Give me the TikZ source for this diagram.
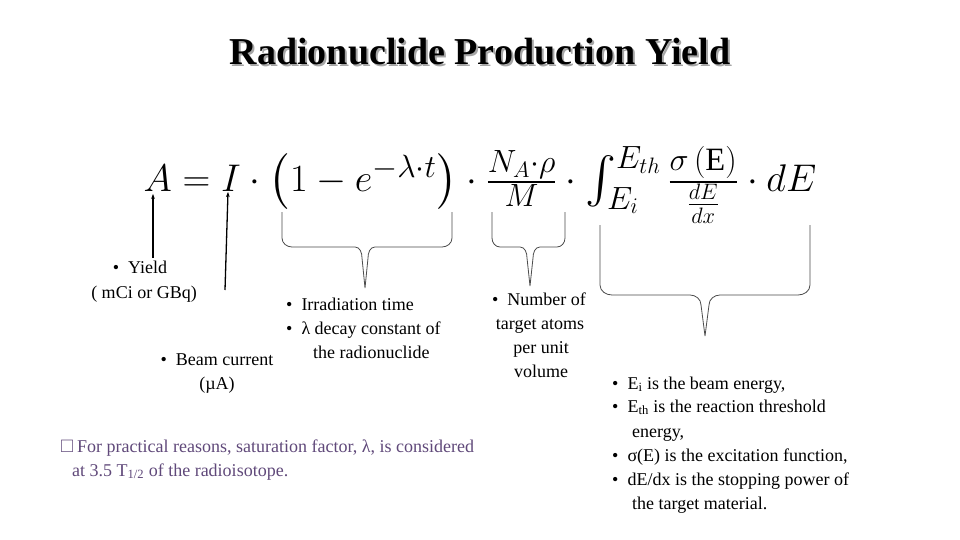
\documentclass[tikz,border=0pt]{standalone}
\usepackage{fontspec}
\usepackage{amssymb}
\usetikzlibrary{arrows.meta}
\setmainfont{Liberation Serif}
\begin{document}
\begin{tikzpicture}[x=1pt,y=-1pt,
  txt/.style={font=\fontsize{18}{21}\selectfont,inner sep=0pt,text depth=0pt,text height=12pt},
  brc/.style={draw=black!70,line width=0.8pt}]
\useasboundingbox (0,0) rectangle (960,540);
\fill[white] (0,0) rectangle (960,540);
% title
\node[font=\fontsize{38}{44}\selectfont\bfseries,text=black!35] at (482,54) {Radionuclide Production Yield};
\node (title) [font=\fontsize{38}{44}\selectfont\bfseries] at (480,52) {Radionuclide Production Yield};
% equation
\node (eq) [inner sep=0pt,font=\fontsize{30}{36}\selectfont,scale=1.55] at (480,185)
 {$A = I\cdot\left(1-e^{-\lambda\cdot t}\right)\cdot\frac{N_A\cdot\rho}{M}\cdot\int_{E_i}^{E_{th}}\frac{\sigma\,(\mathrm{E})}{\frac{dE}{dx}}\cdot dE$};
% braces
\draw[brc] (282,212) -- (282,238) to[out=-90,in=180] (292,247) -- (355,247) to[out=0,in=90] (362,258) -- (365,288)
  (365,288) -- (368,258) to[out=90,in=180] (375,247) -- (442,247) to[out=0,in=-90] (452,238) -- (452,212);
\draw[brc] (492,212) -- (492,238) to[out=-90,in=180] (500,247) -- (520,247) to[out=0,in=90] (527,258) -- (530,286)
  (530,286) -- (533,258) to[out=90,in=180] (540,247) -- (557,247) to[out=0,in=-90] (565,238) -- (565,212);
\draw[brc] (600,225) -- (600,285) to[out=-90,in=180] (612,295) -- (690,295) to[out=0,in=90] (701,305) -- (705,336)
  (705,336) -- (709,305) to[out=90,in=180] (720,295) -- (798,295) to[out=0,in=-90] (810,285) -- (810,225);
% arrows
\coordinate (a1) at (153,258); \coordinate (a1t) at (153,194);
\coordinate (a2) at (225,290); \coordinate (a2t) at (228,192);
\draw[-{Stealth[length=5pt]},line width=1.3pt] (a1) -- (a1t);
\draw[-{Stealth[length=5pt]},line width=1.3pt] (a2) -- (a2t);
% left texts
\node (y1) [txt] at (140,267) {\textbullet\ \ Yield};
\node (y2) [txt] at (144,292) {( mCi or GBq)};
\node (b1) [txt] at (217,359) {\textbullet\ \ Beam current};
\node (b2) [txt] at (217,383) {(µA)};
\node (i1) [txt,anchor=west] at (286,304) {\textbullet\ \ Irradiation time};
\node (i2) [txt,anchor=west] at (286,328) {\textbullet\ \ λ decay constant of};
\node (i3) [txt,anchor=west] at (313,352) {the radionuclide};
\node (n1) [txt,anchor=east] at (586,299) {\textbullet\ \ Number of};
\node (n2) [txt] at (540,323) {target atoms};
\node (n3) [txt] at (541,347) {per unit};
\node (n4) [txt] at (541,371) {volume};
% right list
\foreach \yy/\t in {383/{E\textsubscript{i} is the beam energy,},406/{E\textsubscript{th} is the reaction threshold},455/{σ(E) is the excitation function,},479/{dE/dx is the stopping power of}}
  {\node[txt,anchor=west] at (612,\yy) {\textbullet\ \ \t};}
\node (r3) [txt,anchor=west] at (632,431) {energy,};
\node (r6) [txt,anchor=west] at (632,503) {the target material.};
% note
\definecolor{purp}{RGB}{96,73,122}
\node (q) [txt,anchor=west,text=purp] at (60,446) {$\square$\,For practical reasons, saturation factor, λ, is considered};
\node (q2) [txt,anchor=west,text=purp] at (72,470) {at 3.5 T\textsubscript{1/2} of the radioisotope.};
\end{tikzpicture}
\end{document}
